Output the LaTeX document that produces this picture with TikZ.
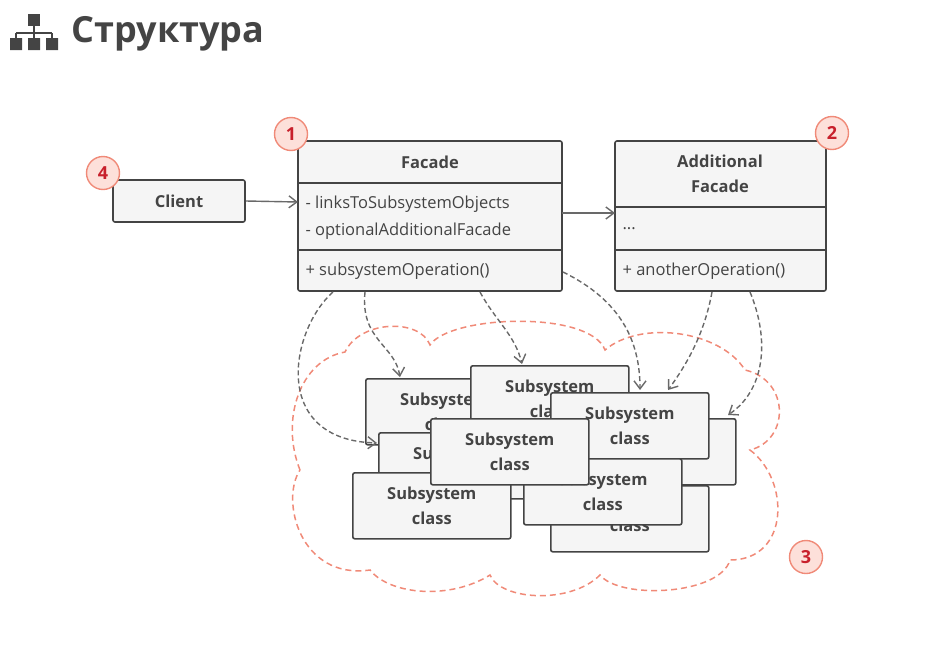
\documentclass[tikz,border=0pt]{standalone}
\usepackage{fontspec}
\setmainfont{Open Sans}
\usetikzlibrary{arrows.meta}
\definecolor{bd}{HTML}{444444}
\definecolor{fillg}{HTML}{F5F5F5}
\definecolor{sal}{HTML}{F08A78}
\definecolor{bfill}{HTML}{FDE0DA}
\definecolor{bred}{HTML}{C8202C}
\begin{document}
\begin{tikzpicture}[x=1pt,y=-1pt,
 box/.style={draw=bd,line width=1.6pt,fill=fillg,rounded corners=2pt},
 ttl/.style={font=\fontsize{16.5}{25}\selectfont\bfseries,text=bd,align=center},
 txt/.style={font=\fontsize{16.5}{20}\selectfont,text=bd,anchor=west},
 sub/.style={box,minimum width=158pt,minimum height=66pt,anchor=north west,ttl,inner sep=0pt},
 arr/.style={draw=bd!80,line width=1.4pt,-{Straight Barb[length=8pt,width=12pt]}},
 darr/.style={arr,dash pattern=on 5pt off 3pt},
 badge/.style={circle,draw=sal,line width=1.4pt,fill=bfill,minimum size=33pt,inner sep=0pt,text=bred,font=\fontsize{18}{20}\selectfont\bfseries}]
\useasboundingbox (0,0) rectangle (936,648);
% title
\fill[bd] (28,14) rectangle (40,26);
\draw[bd,line width=2pt] (34,26)--(34,33) (16,33)--(52,33) (16,33)--(16,38) (34,33)--(34,38) (52,33)--(52,38);
\fill[bd] (10,38) rectangle (22,50) (28,38) rectangle (40,50) (46,38) rectangle (58,50);
\node[anchor=west,font=\fontsize{36}{40}\selectfont\bfseries,text=bd] (title) at (68,34) {Структура};
% cloud
\draw[sal,line width=1.5pt,dash pattern=on 6pt off 4pt]
 (300,470) .. controls (280,420) and (300,360) .. (345,352)
 .. controls (360,320) and (420,318) .. (430,345)
 .. controls (450,315) and (590,310) .. (605,350)
 .. controls (640,320) and (720,330) .. (745,370)
 .. controls (790,380) and (790,440) .. (750,450)
 .. controls (790,480) and (790,560) .. (730,560)
 .. controls (720,595) and (620,600) .. (600,575)
 .. controls (570,605) and (500,600) .. (490,575)
 .. controls (450,600) and (390,595) .. (370,570)
 .. controls (300,580) and (280,500) .. (300,470);
% subsystem boxes
\node[sub] (c) at (577,418) {\hspace*{4pt}};
\node[sub] (i) at (550,485) {\\class};
\node[sub] (a) at (365,378) {Subsystem\\class};
\node[sub] (b) at (470,365) {Subsystem\\class};
\node[sub] (d) at (550,392) {Subsystem\\class};
\node[sub] (e) at (378,432) {Subsystem\\class};
\node[sub] (f) at (352,472) {Subsystem\\class};
\node[sub] (h) at (523,458) {Subsystem\\class};
\node[sub] (g) at (430,418) {Subsystem\\class};
% facade
\draw[box] (298,141) rectangle (562,291);
\draw[bd,line width=1.6pt] (298,183)--(562,183) (298,250)--(562,250);
\node[ttl] (fac) at (430,162) {Facade};
\node[txt] (f1) at (302,204) {- linksToSubsystemObjects};
\node[txt] (f2) at (302,231) {- optionalAdditionalFacade};
\node[txt] (f3) at (302,271) {+ subsystemOperation()};
\coordinate (fw) at (298,202); \coordinate (fe) at (562,213);
% additional
\draw[box] (615,141) rectangle (826,291);
\draw[bd,line width=1.6pt] (615,207)--(826,207) (615,250)--(826,250);
\node[ttl] (add) at (720,174) {Additional\\Facade};
\node[txt] (a1) at (619,229) {...};
\node[txt] (a2) at (619,271) {+ anotherOperation()};
\coordinate (aw) at (615,213);
% client
\node[box,ttl,minimum width=132pt,minimum height=42pt] (cl) at (179,201) {Client};
\draw[arr] (cl.east) -- (fw);
\draw[arr] (fe) -- (aw);
% dashed
\coordinate (s1) at (365,292); \coordinate (s2) at (480,292);
\coordinate (s3) at (333,292); \coordinate (s4) at (563,272);
\coordinate (s5) at (712,292); \coordinate (s6) at (750,292);
\draw[darr] (s1) .. controls (360,340) and (395,345) .. (400,377);
\draw[darr] (s2) .. controls (495,320) and (515,335) .. (522,364);
\draw[darr] (s3) .. controls (290,330) and (270,440) .. (377,443);
\draw[darr] (s4) .. controls (620,300) and (640,340) .. (640,390);
\draw[darr] (s5) .. controls (705,330) and (690,360) .. (668,390);
\draw[darr] (s6) .. controls (770,340) and (765,390) .. (728,415);
% badges
\node[badge] (b1) at (291,134) {1};
\node[badge] (b2) at (832,133) {2};
\node[badge] (b4) at (103,173) {4};
\node[badge] (b3) at (806,557) {3};
\end{tikzpicture}
\end{document}
